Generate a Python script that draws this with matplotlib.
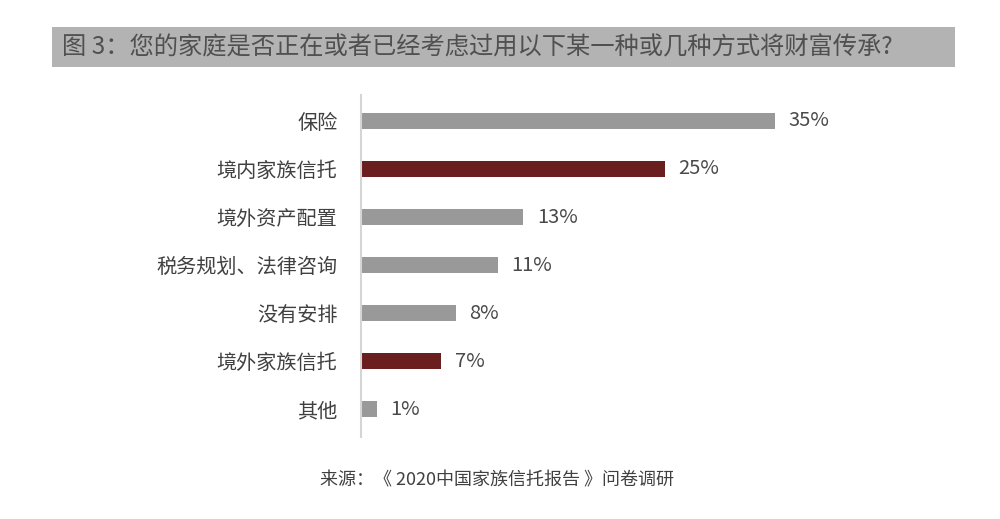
import matplotlib
matplotlib.use("Agg")
import matplotlib.pyplot as plt
from matplotlib.patches import Rectangle

plt.rcParams['font.family'] = ['Noto Sans CJK SC', 'DejaVu Sans']

categories = ["保险", "境内家族信托", "境外资产配置", "税务规划、法律咨询", "没有安排", "境外家族信托", "其他"]
values = [34.4, 25.2, 13.4, 11.3, 7.8, 6.6, 1.2]
value_labels = ["35%", "25%", "13%", "11%", "8%", "7%", "1%"]
highlight = [False, True, False, False, False, True, False]
title = "图 3：您的家庭是否正在或者已经考虑过用以下某一种或几种方式将财富传承?"
source = "来源：《 2020中国家族信托报告 》问卷调研"

GRAY = "#999999"
RED = "#6b1e1e"

fig = plt.figure(figsize=(10, 5.19), dpi=100)
fig.patch.set_facecolor("white")

# title banner
fig.patches.append(Rectangle((0.052, 1 - 67/519), 0.903, 40/519, transform=fig.transFigure,
                             facecolor="#b3b3b3", edgecolor="none", zorder=0))
fig.text(0.062, 1 - 47/519, title, fontsize=17.5, color="#505050", va="center", ha="left")

ax = fig.add_axes([0.361, 1 - 437/519, 0.48, 342/519])
ypos = list(range(len(categories)))
colors = [RED if h else GRAY for h in highlight]
ax.barh(ypos, values, height=0.34, color=colors, left=0.1)
ax.set_xlim(0, 40)
ax.set_ylim(6.58, -0.54)
for y, v, lab in zip(ypos, values, value_labels):
    ax.text(v + 1.25, y, lab, va="center", ha="left", fontsize=14.5, color="#4a4a4a")
ax.set_yticks(ypos)
ax.set_yticklabels(categories, fontsize=14.5, color="#404040")
ax.tick_params(axis="y", length=0, pad=17)
ax.set_xticks([])
for s in ["top", "right", "bottom"]:
    ax.spines[s].set_visible(False)
ax.spines["left"].set_color("#d5d5d5")
ax.spines["left"].set_linewidth(1.5)

fig.text(0.497, 1 - 480/519, source, fontsize=13, color="#404040", ha="center", va="center")

fig.savefig("out.png", dpi=100, facecolor="white")
